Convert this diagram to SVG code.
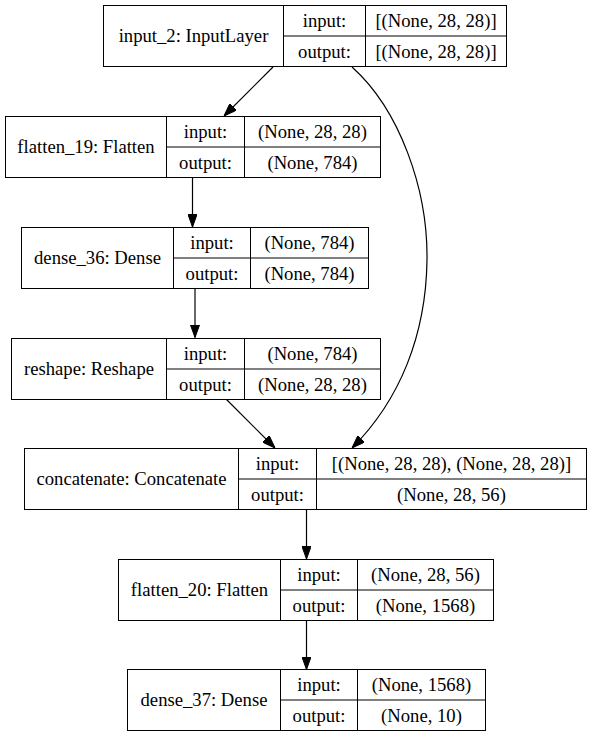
<svg xmlns="http://www.w3.org/2000/svg" width="593" height="737" viewBox="0 0 593 737">
<style>
.box{fill:#fff;stroke:#000;stroke-width:1}
.ln{stroke:#000;stroke-width:1;fill:none}
text{font-family:"Liberation Serif","Times New Roman",serif;font-size:18.67px;fill:#000;text-anchor:middle}
.edge{stroke:#000;stroke-width:1.2;fill:none;marker-end:url(#arr)}
</style>
<defs>
<marker id="arr" markerUnits="userSpaceOnUse" viewBox="0 0 13 9.4" refX="13" refY="4.7" markerWidth="13" markerHeight="9.4" orient="auto">
<path d="M0,0 L13,4.7 L0,9.4 z" fill="#000" stroke="#000" stroke-width="1"/>
</marker>
</defs>
<rect width="593" height="737" fill="#fff"/>
<g id="connectors">
<path class="edge" d="M273,67 L224,116"/>
<path class="edge" d="M352,67 C400,110 428,190 427,260 C426,335 400,400 352,448"/>
<path class="edge" d="M192.5,178 L192.5,227"/>
<path class="edge" d="M195,288.5 L195,337.5"/>
<path class="edge" d="M226,399 L275,448"/>
<path class="edge" d="M306.5,509.5 L306.5,559"/>
<path class="edge" d="M306.5,620.5 L306.5,669.5"/>
</g>
<g id="input_2">
<rect class="box" x="103.5" y="5.5" width="403" height="61"/>
<path class="ln" d="M283.5,5.5 V66.5 M365.5,5.5 V66.5 M283.5,36 H506.5"/>
<text x="193.5" y="42">input_2: InputLayer</text>
<text x="324.5" y="27">input:</text>
<text x="324.5" y="58">output:</text>
<text x="436" y="27">[(None, 28, 28)]</text>
<text x="436" y="58">[(None, 28, 28)]</text>
</g>
<g id="flatten_19">
<rect class="box" x="5.5" y="116.5" width="375" height="61"/>
<path class="ln" d="M166.5,116.5 V177.5 M244.5,116.5 V177.5 M166.5,147 H380.5"/>
<text x="86" y="153">flatten_19: Flatten</text>
<text x="205.5" y="138">input:</text>
<text x="205.5" y="169">output:</text>
<text x="312.5" y="138">(None, 28, 28)</text>
<text x="312.5" y="169">(None, 784)</text>
</g>
<g id="dense_36">
<rect class="box" x="21.5" y="227.5" width="347" height="61"/>
<path class="ln" d="M173.5,227.5 V288.5 M250.5,227.5 V288.5 M173.5,258 H368.5"/>
<text x="97.5" y="264">dense_36: Dense</text>
<text x="212" y="249">input:</text>
<text x="212" y="280">output:</text>
<text x="309.5" y="249">(None, 784)</text>
<text x="309.5" y="280">(None, 784)</text>
</g>
<g id="reshape">
<rect class="box" x="11.5" y="338.5" width="369" height="61"/>
<path class="ln" d="M166.5,338.5 V399.5 M244.5,338.5 V399.5 M166.5,369 H380.5"/>
<text x="89" y="375">reshape: Reshape</text>
<text x="205.5" y="360">input:</text>
<text x="205.5" y="391">output:</text>
<text x="312.5" y="360">(None, 784)</text>
<text x="312.5" y="391">(None, 28, 28)</text>
</g>
<g id="concatenate">
<rect class="box" x="24.5" y="448.5" width="562" height="61"/>
<path class="ln" d="M238.5,448.5 V509.5 M316.5,448.5 V509.5 M238.5,479 H586.5"/>
<text x="131.5" y="485">concatenate: Concatenate</text>
<text x="277.5" y="470">input:</text>
<text x="277.5" y="501">output:</text>
<text x="451.5" y="470">[(None, 28, 28), (None, 28, 28)]</text>
<text x="451.5" y="501">(None, 28, 56)</text>
</g>
<g id="flatten_20">
<rect class="box" x="118.5" y="559.5" width="375" height="61"/>
<path class="ln" d="M280.5,559.5 V620.5 M357.5,559.5 V620.5 M280.5,590 H493.5"/>
<text x="199.5" y="596">flatten_20: Flatten</text>
<text x="319" y="581">input:</text>
<text x="319" y="612">output:</text>
<text x="425.5" y="581">(None, 28, 56)</text>
<text x="425.5" y="612">(None, 1568)</text>
</g>
<g id="dense_37">
<rect class="box" x="127.5" y="669.5" width="358" height="61"/>
<path class="ln" d="M280.5,669.5 V730.5 M357.5,669.5 V730.5 M280.5,700 H485.5"/>
<text x="204" y="706">dense_37: Dense</text>
<text x="319" y="691">input:</text>
<text x="319" y="722">output:</text>
<text x="421.5" y="691">(None, 1568)</text>
<text x="421.5" y="722">(None, 10)</text>
</g>
</svg>
